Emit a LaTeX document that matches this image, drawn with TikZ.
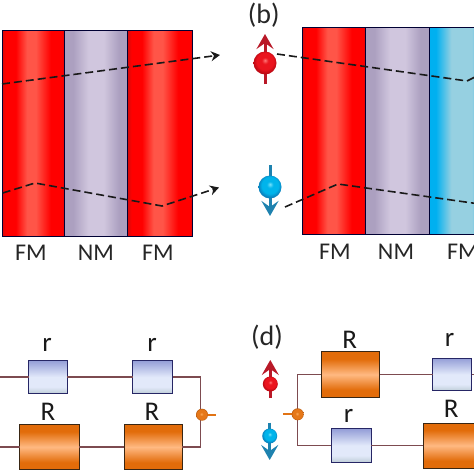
\documentclass[tikz,border=0pt]{standalone}
\usepackage{fontspec}
\setmainfont{Carlito}
\usetikzlibrary{arrows.meta,shadings}
\definecolor{rd}{RGB}{255,0,0}\definecolor{rdE}{RGB}{215,10,10}\definecolor{rdC}{RGB}{255,85,72}
\definecolor{nmE}{RGB}{172,160,192}\definecolor{nmC}{RGB}{208,198,222}
\definecolor{blE}{RGB}{0,176,240}\definecolor{blC}{RGB}{150,208,225}
\definecolor{rT}{RGB}{148,158,215}\definecolor{rM}{RGB}{226,233,250}\definecolor{rB}{RGB}{190,205,215}
\definecolor{RE}{RGB}{226,108,10}\definecolor{RC}{RGB}{255,185,130}
\definecolor{wire}{RGB}{125,75,80}\definecolor{jn}{RGB}{225,115,20}
\definecolor{upc}{RGB}{185,25,40}\definecolor{dnc}{RGB}{30,130,175}
\definecolor{upL}{RGB}{255,120,120}\definecolor{upM}{RGB}{235,20,30}\definecolor{upD}{RGB}{190,10,20}
\definecolor{dnL}{RGB}{120,225,250}\definecolor{dnM}{RGB}{0,180,235}\definecolor{dnD}{RGB}{10,130,190}
\definecolor{jnL}{RGB}{250,170,90}\definecolor{jnM}{RGB}{230,120,25}\definecolor{jnD}{RGB}{170,80,10}
\pgfdeclarehorizontalshading{redband}{100bp}{color(0bp)=(rdE);color(25bp)=(rdE);color(28bp)=(rd);color(36bp)=(rd);color(45bp)=(rdC);color(52bp)=(rdC);color(64bp)=(rd);color(73bp)=(rd);color(75bp)=(rdE);color(100bp)=(rdE)}
\pgfdeclarehorizontalshading{nmband}{100bp}{color(0bp)=(nmE);color(25bp)=(nmE);color(32bp)=(nmE);color(44bp)=(nmC);color(56bp)=(nmC);color(68bp)=(nmE);color(75bp)=(nmE);color(100bp)=(nmE)}
\pgfdeclarehorizontalshading{blueband}{100bp}{color(0bp)=(blE);color(25bp)=(blE);color(30bp)=(blE);color(42bp)=(blC);color(58bp)=(blC);color(70bp)=(blE);color(75bp)=(blE);color(100bp)=(blE)}
\pgfdeclareverticalshading{rshade}{100bp}{color(0bp)=(rB);color(25bp)=(rB);color(35bp)=(rM);color(50bp)=(rM);color(75bp)=(rT);color(100bp)=(rT)}
\pgfdeclareverticalshading{Rshade}{100bp}{color(0bp)=(RE);color(25bp)=(RE);color(33bp)=(RE);color(50bp)=(RC);color(67bp)=(RE);color(75bp)=(RE);color(100bp)=(RE)}
\pgfdeclareradialshading{upball}{\pgfpoint{0bp}{6bp}}{color(0bp)=(upL);color(7bp)=(upM);color(18bp)=(upM);color(25bp)=(upD);color(50bp)=(upD)}
\pgfdeclareradialshading{dnball}{\pgfpoint{0bp}{6bp}}{color(0bp)=(dnL);color(7bp)=(dnM);color(18bp)=(dnM);color(25bp)=(dnD);color(50bp)=(dnD)}
\pgfdeclareradialshading{jnball}{\pgfpoint{-3bp}{3bp}}{color(0bp)=(jnL);color(8bp)=(jnM);color(20bp)=(jnM);color(27bp)=(jnD);color(50bp)=(jnD)}
\tikzset{
 x=1pt,y=-1pt,
 band/.style={draw=black!80!blue,line width=.7pt,inner sep=0pt,outer sep=0pt,minimum width=#1,minimum height=206.5pt},
 fmred/.style={band=#1,shading=redband},
 nmgrey/.style={band=#1,shading=nmband},
 fmblue/.style={band=#1,shading=blueband},
 lab/.style={font=\fontsize{24}{26}\selectfont,inner sep=0pt,text=black!85},
 rlab/.style={font=\fontsize{27}{29}\selectfont,inner sep=0pt,text=black!90},
 rbox/.style={draw=black!65!blue!70!gray,line width=1pt,inner sep=0pt,outer sep=0pt,shading=rshade},
 Rbox/.style={draw=black!70!brown,line width=1pt,inner sep=0pt,outer sep=0pt,shading=Rshade},
 wireline/.style={draw=wire,line width=1.2pt},
 path1/.style={dash pattern=on 8pt off 4pt,line width=1.6pt,draw=black!90},
 head/.style={-{Stealth[length=9pt,width=10pt,inset=3pt]}},
 ballup/.style={circle,inner sep=0pt,minimum size=#1,shading=upball},
 balldn/.style={circle,inner sep=0pt,minimum size=#1,shading=dnball},
 joint/.style={circle,inner sep=0pt,minimum size=12pt,shading=jnball},
 upar/.style={draw=upc,line width=3pt,-{Stealth[length=15pt,width=17pt,inset=6pt]}},
 dnar/.style={draw=dnc,line width=3pt,-{Stealth[length=15pt,width=17pt,inset=6pt]}},
}
\begin{document}
\begin{tikzpicture}
\useasboundingbox (0,0) rectangle (474,474);
\clip (0,0) rectangle (474,474);
\fill[white] (0,0) rectangle (474,474);
% panel a
\node[fmred=62.5pt] (a1) at (33.25,133.25) {};
\node[nmgrey=63.5pt] (a2) at (96,133.25) {};
\node[fmred=64.5pt] (a3) at (160,133.25) {};
\node[lab] (fa1) at (31,253) {FM};
\node[lab] (fa2) at (96,253) {NM};
\node[lab] (fa3) at (158,253) {FM};
\coordinate (at1) at (2,84); \coordinate (at2) at (220,55);
\coordinate (ab1) at (2.7,193); \coordinate (ab2) at (35,183); \coordinate (ab3) at (162,206); \coordinate (ab4) at (219,187.5);
\draw[path1,head] (at1) -- (at2);
\draw[path1,head] (ab1) -- (ab2) -- (ab3) -- (ab4);
% panel b
\node[lab,font=\fontsize{28}{30}\selectfont] (lb) at (263.7,15.5) {(b)};
\node[fmred=63.5pt] (b1) at (333.75,131) {};
\node[nmgrey=64pt] (b2) at (397.5,131) {};
\node[fmblue=64pt] (b3) at (461.5,131) {};
\node[lab] (fb1) at (335,252) {FM};
\node[lab] (fb2) at (396,252) {NM};
\node[lab,anchor=west] (fb3) at (447,252) {FM};
\coordinate (ua) at (265,84); \coordinate (ub) at (265,34);
\coordinate (da) at (270,165); \coordinate (db) at (270,216);
\draw[upar] (ua) -- (ub);
\draw[dnar] (da) -- (db);
\node[ballup=23pt] (su) at (265,63) {};
\node[balldn=23pt] (sd) at (270,187) {};
\coordinate (bt0) at (277,54); \coordinate (bt1) at (467,81); \coordinate (bt2) at (476,76.5);
\coordinate (bb0) at (285,207); \coordinate (bb1) at (338,184); \coordinate (bb2) at (476,203.5);
\draw[path1] (bt0) -- (bt1) -- (bt2);
\draw[path1] (bb0) -- (bb1) -- (bb2);
% panel c
\node[rbox,minimum width=38.6pt,minimum height=33pt] (cr1) at (48,377) {};
\node[rbox,minimum width=39.7pt,minimum height=33pt] (cr2) at (152.8,377) {};
\node[Rbox,minimum width=59.3pt,minimum height=45pt] (cR1) at (49.6,447) {};
\node[Rbox,minimum width=58pt,minimum height=45.6pt] (cR2) at (153,447) {};
\node[rlab] (lr1) at (47,345) {r};
\node[rlab] (lr2) at (152,345) {r};
\node[rlab] (lR1) at (48,412) {R};
\node[rlab] (lR2) at (152,412) {R};
\coordinate (cl1) at (0,377); \coordinate (cl2) at (0,447);
\coordinate (cx) at (200.3,414.7); \coordinate (cst) at (216,414.7);
\draw[wireline] (cl1) -- (cr1);
\draw[wireline] (cr1) -- (cr2);
\draw[wireline] (cr2.east) -| (cx);
\draw[wireline] (cl2) -- (cR1);
\draw[wireline] (cR1) -- (cR2);
\draw[wireline] (cR2.east) -| (cx);
\draw[draw=jn,line width=2.2pt] (cx) -- (cst);
\node[joint] (cj) at (202,414.7) {};
% panel d
\node[lab,font=\fontsize{28}{30}\selectfont] (ld) at (267,337) {(d)};
\node[Rbox,minimum width=58.4pt,minimum height=45.4pt] (dR1) at (350.5,374.5) {};
\node[rbox,minimum width=39pt,minimum height=32.7pt] (dr1) at (452.2,374.5) {};
\node[rbox,minimum width=39.7pt,minimum height=33.4pt] (dr2) at (351.2,445.5) {};
\node[Rbox,minimum width=64pt,minimum height=45pt] (dR2) at (455,445.5) {};
\node[rlab] (lRa) at (349.7,340) {R};
\node[rlab] (lra) at (449.7,340) {r};
\node[rlab] (lrb) at (348.7,416) {r};
\node[rlab] (lRb) at (451.3,409) {R};
\coordinate (dx) at (297.7,414.3); \coordinate (dst) at (283,414.3);
\coordinate (dre) at (476,374.5);
\draw[wireline] (dx) |- (dR1.west);
\draw[wireline] (dx) |- (dr2.west);
\draw[wireline] (dR1) -- (dr1);
\draw[wireline] (dr1) -- (dre);
\draw[wireline] (dr2) -- (dR2);
\draw[draw=jn,line width=2.2pt] (dx) -- (dst);
\node[joint] (dj) at (dx) {};
\coordinate (ua2) at (270.3,398); \coordinate (ub2) at (270.3,360);
\coordinate (da2) at (269.7,422.7); \coordinate (db2) at (269.7,460);
\draw[upar] (ua2) -- (ub2);
\draw[dnar] (da2) -- (db2);
\node[ballup=15pt] (su2) at (270.3,384) {};
\node[balldn=15pt] (sd2) at (269.7,436) {};
\end{tikzpicture}
\end{document}
